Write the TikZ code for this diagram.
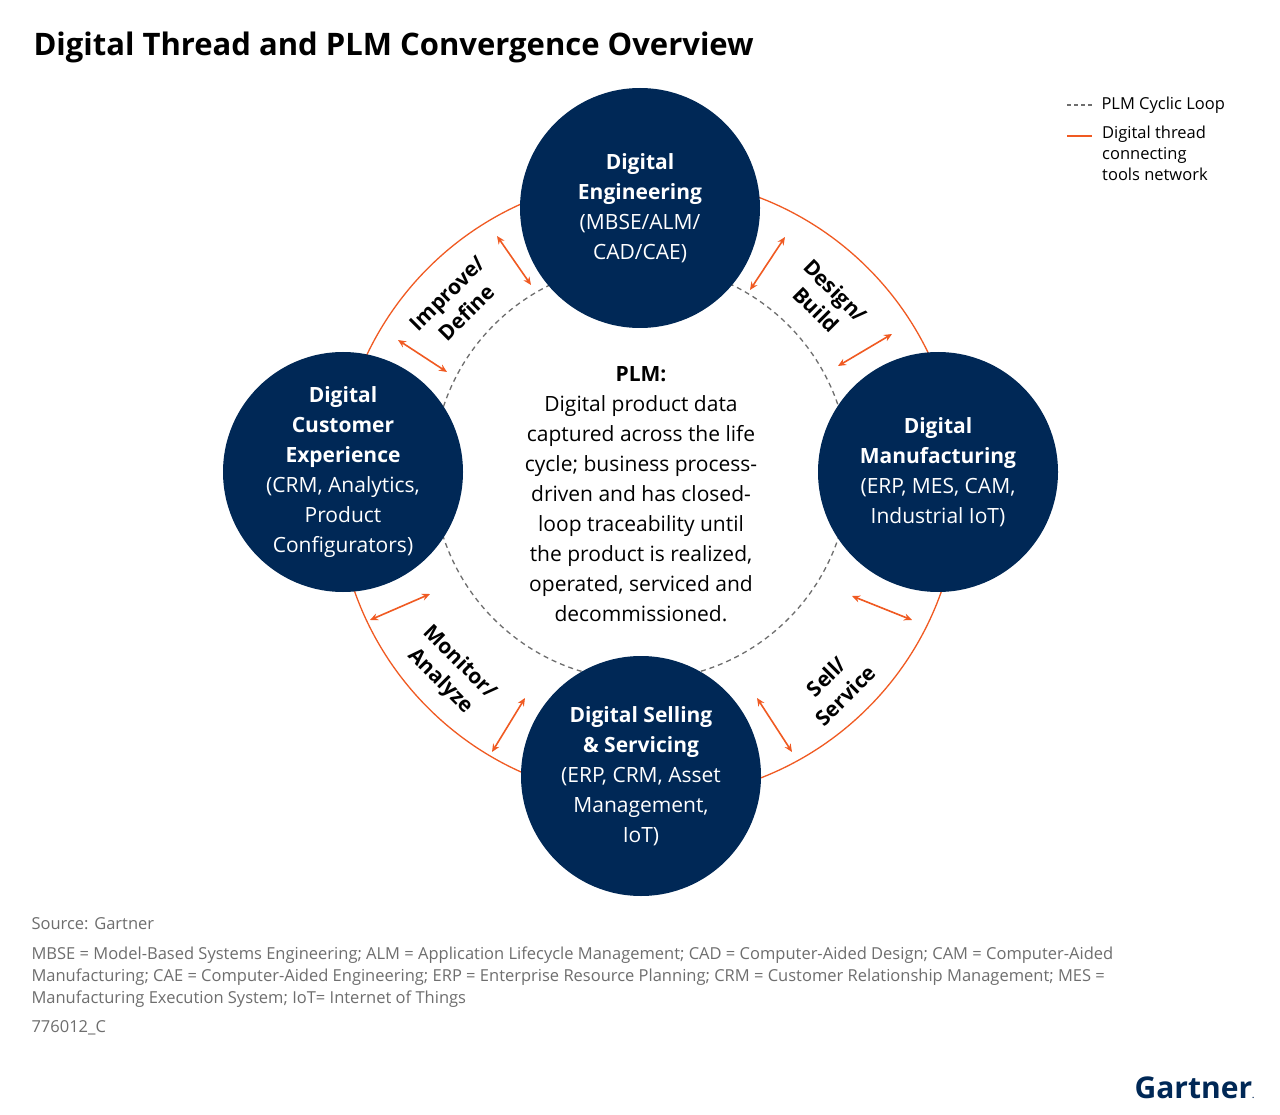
\documentclass[tikz,border=0pt]{standalone}
\usepackage{fontspec}
\setmainfont{Open Sans}
\usetikzlibrary{arrows.meta}
\definecolor{navy}{HTML}{002856}
\definecolor{org}{HTML}{F05A22}
\definecolor{gr}{HTML}{6E6E6E}
\begin{document}
\begin{tikzpicture}[x=1pt,y=-1pt,
  hub/.style={circle,fill=navy,minimum size=240pt,inner sep=0pt,text=white,align=center,font=\fontsize{21}{30}\selectfont},
  dar/.style={org,line width=1.6pt,{Stealth[length=8pt,width=7pt]}-{Stealth[length=8pt,width=7pt]}},
  lab/.style={font=\fontsize{21}{27}\selectfont\bfseries,align=center},
  foot/.style={text=gr,anchor=north west,font=\fontsize{16.5}{22}\selectfont,align=left}]
\useasboundingbox[fill=white] (0,0) rectangle (1280,1115);
\node[anchor=west,font=\fontsize{31}{34}\selectfont\bfseries] (title) at (30,47) {Digital Thread and PLM Convergence Overview};
\coordinate (c) at (641,472);
\coordinate (oc) at (648,488);
\draw[org,line width=1.3pt] (oc) circle[radius=311];
\draw[gr,dashed,line width=1.3pt,dash pattern=on 5pt off 4pt] (c) circle[radius=208];
\node[hub] (top) at (640,208) {\textbf{Digital}\\\textbf{Engineering}\\(MBSE/ALM/\\CAD/CAE)};
\node[hub] (left) at (343,472) {\textbf{Digital}\\\textbf{Customer}\\\textbf{Experience}\\(CRM, Analytics,\\Product\\Configurators)};
\node[hub] (right) at (938,472) {\textbf{Digital}\\\textbf{Manufacturing}\\(ERP, MES, CAM,\\Industrial IoT)};
\node[hub] (bot) at (641,776) {\textbf{Digital Selling}\\\textbf{\& Servicing}\\(ERP, CRM, Asset\\Management,\\IoT)};
\node[align=center,font=\fontsize{21}{30}\selectfont] (plm) at (641,494) {\textbf{PLM:}\\Digital product data\\captured across the life\\cycle; business process-\\driven and has closed-\\loop traceability until\\the product is realized,\\operated, serviced and\\decommissioned.};
\coordinate (a1) at (497,236); \coordinate (a2) at (531,285);
\coordinate (a3) at (398,340); \coordinate (a4) at (447,372);
\coordinate (b1) at (750,290); \coordinate (b2) at (785,237);
\coordinate (b3) at (838,366); \coordinate (b4) at (892,334);
\coordinate (d1) at (370,620); \coordinate (d2) at (430,594);
\coordinate (d3) at (492,752); \coordinate (d4) at (525,698);
\coordinate (e1) at (852,596); \coordinate (e2) at (912,620);
\coordinate (e3) at (757,698); \coordinate (e4) at (792,752);
\draw[dar] (a1)--(a2); \draw[dar] (a3)--(a4);
\draw[dar] (b1)--(b2); \draw[dar] (b3)--(b4);
\draw[dar] (d1)--(d2); \draw[dar] (d3)--(d4);
\draw[dar] (e1)--(e2); \draw[dar] (e3)--(e4);
\node[lab,rotate=45] (l1) at (457,303) {Improve/\\Define};
\node[lab,rotate=-45] (l2) at (826,300) {Design/\\Build};
\node[lab,rotate=-45] (l3) at (450,672) {Monitor/\\Analyze};
\node[lab,rotate=45] (l4) at (836,686) {Sell/\\Service};
\coordinate (g1) at (1067,105); \coordinate (g2) at (1092,105);
\coordinate (g3) at (1067,136); \coordinate (g4) at (1092,136);
\draw[gr,line width=1.3pt,dash pattern=on 4pt off 3pt] (g1)--(g2);
\draw[org,line width=1.3pt] (g3)--(g4);
\node[anchor=west,font=\fontsize{16.5}{21}\selectfont] (lg1) at (1098,105) {PLM Cyclic Loop};
\node[anchor=north west,align=left,font=\fontsize{16.5}{21}\selectfont,inner sep=0pt] (lg2) at (1102,126) {Digital thread\\connecting\\tools network};
\node[foot] (src) at (28,914) {Source: Gartner};
\node[foot] (abbr) at (28,943) {MBSE = Model-Based Systems Engineering; ALM = Application Lifecycle Management; CAD = Computer-Aided Design; CAM = Computer-Aided\\Manufacturing; CAE = Computer-Aided Engineering; ERP = Enterprise Resource Planning; CRM = Customer Relationship Management; MES =\\Manufacturing Execution System; IoT= Internet of Things};
\node[foot] (id) at (28,1017) {776012\_C};
\node[anchor=east,text=navy,font=\fontsize{30}{34}\selectfont\bfseries] (logo) at (1258,1088) {Gartner\raisebox{0pt}{\fontsize{8}{8}\selectfont.}};
\end{tikzpicture}
\end{document}
